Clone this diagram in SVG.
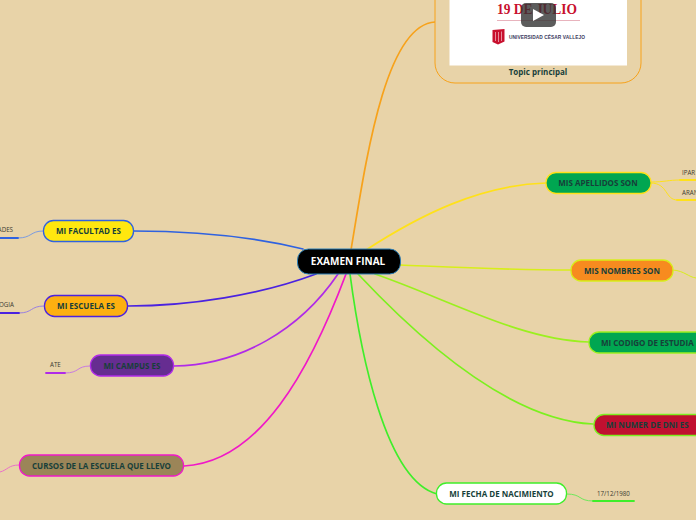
<svg xmlns="http://www.w3.org/2000/svg" width="696" height="520" viewBox="0 0 696 520">
<style>
.t{font-family:"Open Sans","Noto Sans","DejaVu Sans",sans-serif;font-weight:700;font-size:8px;fill:#173f3a;text-anchor:middle}
.s{font-family:"Open Sans","Noto Sans","DejaVu Sans",sans-serif;font-size:6.200px;fill:#3a3a30;text-anchor:start}
.c{fill:none;stroke-linecap:round}
.m{stroke-width:1.700}
.n{stroke-width:1.300}
</style>
<rect width="696" height="520" fill="#e8d3a8"/>
<g id="connectors">
<path class="c m" d="M351 250C366 160 385 25 435 22" stroke="#f7a21b"/>
<path class="c m" d="M366 250C420 215 480 185 546 183" stroke="#ffe11a"/>
<path class="c m" d="M400 265C450 267 510 270 571 270" stroke="#d8ee1a"/>
<path class="c m" d="M375 274C450 300 520 340 589 342" stroke="#9bf01f"/>
<path class="c m" d="M358 274C420 340 510 420 593 424" stroke="#7cf01f"/>
<path class="c m" d="M350 274C360 350 385 480 437 494" stroke="#3fee2a"/>
<path class="c m" d="M303 249C250 236 190 231 133 231" stroke="#2f62e0"/>
<path class="c m" d="M316 274C260 295 190 306 128 306" stroke="#4a22e0"/>
<path class="c m" d="M338 274C300 330 240 365 174 366" stroke="#b02ae8"/>
<path class="c m" d="M346 274C310 370 260 462 184 466" stroke="#f018c8"/>
<path class="c" d="M651 182C665 182 668 180 680 180" stroke="#ffe11a" stroke-width="1"/>
<path class="c" d="M680 180H696" stroke="#ffe11a" stroke-width="1.800"/>
<path class="c" d="M651 183C668 183 665 200 677 200" stroke="#ffe11a" stroke-width="1"/>
<path class="c" d="M677 200H696" stroke="#ffe11a" stroke-width="1.800"/>
<path class="c" d="M673 270C685 271 688 277 696 278" stroke="#d8ee1a" stroke-width="1"/>
<path class="c" d="M567 494C582 494 578 501 593 501" stroke="#6fe85a" stroke-width="1"/>
<path class="c" d="M593 501H634" stroke="#3fee2a" stroke-width="1.800"/>
<path class="c" d="M43 231C30 231 32 238 18 238" stroke="#7b9be0" stroke-width="1"/>
<path class="c" d="M0 238H18" stroke="#2f62e0" stroke-width="1.800"/>
<path class="c" d="M44 306C30 306 33 313 19 313" stroke="#9a80e0" stroke-width="1"/>
<path class="c" d="M0 313H19" stroke="#4a22e0" stroke-width="1.800"/>
<path class="c" d="M90 366C76 366 80 373 65 373" stroke="#c87ae0" stroke-width="1"/>
<path class="c" d="M46 373H65" stroke="#b02ae8" stroke-width="1.800"/>
<path class="c" d="M19 465C8 465 8 470 0 472" stroke="#ea70c8" stroke-width="1"/>
</g>
<g id="topic">
<rect x="435" y="-40" width="206" height="123" rx="20" fill="#e8d3a8" stroke="#f7a21b" stroke-width="1"/>
<rect x="449.500" y="-20" width="177.500" height="85.500" fill="#fff"/>
<text x="537" y="13.500" font-family="'Liberation Serif',serif" font-weight="700" font-size="14px" fill="#c8102e" text-anchor="middle" textLength="80" lengthAdjust="spacingAndGlyphs">19 DE JULIO</text>
<path d="M497 20.500H580" stroke="#e2a0ac" stroke-width="0.800"/>
<path d="M492.500 30L504.500 29V41.500L498 44.500L492.500 42Z" fill="#c8102e"/>
<path d="M495.500 32V41M498.500 32V42M501.500 31.500V41" stroke="#f3c2ca" stroke-width="0.700"/>
<text x="547" y="39" font-family="'Liberation Sans',sans-serif" font-weight="700" font-size="4.800px" fill="#3a3a60" text-anchor="middle" textLength="76" lengthAdjust="spacing">UNIVERSIDAD CÉSAR VALLEJO</text>
<rect x="521" y="3" width="35" height="24" rx="5" fill="#333" fill-opacity="0.800"/>
<path d="M533 9L544 15L533 21Z" fill="#fff"/>
<text class="t" x="538" y="75">Topic principal</text>
</g>
<g id="root">
<rect x="297.500" y="249" width="103" height="25" rx="11" fill="#000" stroke="#2b7fb8" stroke-width="1"/>
<text x="348" y="265" font-family="'Open Sans','Noto Sans',sans-serif" font-weight="700" font-size="10px" fill="#fff" text-anchor="middle">EXAMEN FINAL</text>
</g>
<g id="apellidos">
<rect x="546" y="172.500" width="105" height="21" rx="10" fill="#00a651" stroke="#ffe11a" class="n"/>
<text class="t" x="598" y="186">MIS APELLIDOS SON</text>
</g>
<g id="apellido1"><text class="s" x="682" y="175">IPAR</text></g>
<g id="apellido2"><text class="s" x="682" y="195">ARAN</text></g>
<g id="nombres">
<rect x="571" y="260" width="102" height="21" rx="10" fill="#f78b1f" stroke="#d8ee1a" class="n"/>
<text class="t" x="622" y="273.500">MIS NOMBRES SON</text>
</g>
<g id="codigo">
<rect x="589" y="332" width="120" height="21" rx="10" fill="#00a651" stroke="#9bf01f" class="n"/>
<text class="t" x="601" y="345.500" style="text-anchor:start">MI CODIGO DE ESTUDIA</text>
</g>
<g id="dni">
<rect x="594" y="414.500" width="120" height="21" rx="10" fill="#c01030" stroke="#7cf01f" class="n"/>
<text class="t" x="606" y="428" style="text-anchor:start">MI NUMER DE DNI ES</text>
</g>
<g id="fecha">
<rect x="436.500" y="483" width="130" height="21" rx="10" fill="#fff" stroke="#3fee2a" class="n"/>
<text class="t" x="501.500" y="497">MI FECHA DE NACIMIENTO</text>
</g>
<g id="fecha-valor"><text class="s" x="597" y="496">17/12/1980</text></g>
<g id="facultad">
<rect x="43.500" y="220.500" width="90" height="21" rx="10" fill="#ffe70f" stroke="#2f62e0" class="n"/>
<text class="t" x="88.500" y="234">MI FACULTAD ES</text>
</g>
<g id="facultad-valor"><text class="s" x="13" y="232" style="text-anchor:end">ADES</text></g>
<g id="escuela">
<rect x="44.500" y="295.500" width="83" height="21" rx="10" fill="#fdb010" stroke="#4a22e0" class="n"/>
<text class="t" x="86" y="309">MI ESCUELA ES</text>
</g>
<g id="escuela-valor"><text class="s" x="14" y="307" style="text-anchor:end">OGIA</text></g>
<g id="campus">
<rect x="90.500" y="355" width="83" height="21" rx="10" fill="#662d91" stroke="#b02ae8" class="n"/>
<text class="t" x="132" y="369">MI CAMPUS ES</text>
</g>
<g id="campus-valor"><text class="s" x="50" y="367">ATE</text></g>
<g id="cursos">
<rect x="19.500" y="455" width="164" height="21" rx="10" fill="#9b8558" stroke="#f018c8" class="n"/>
<text class="t" x="101.500" y="469">CURSOS DE LA ESCUELA QUE LLEVO</text>
</g>
</svg>
